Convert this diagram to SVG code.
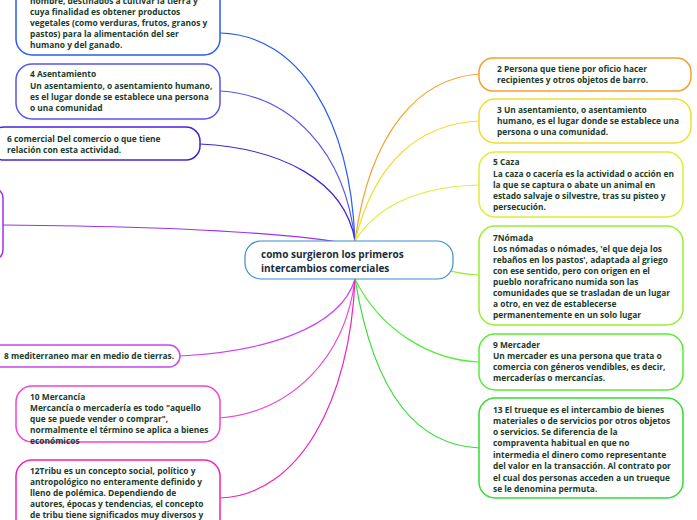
<svg xmlns="http://www.w3.org/2000/svg" width="697" height="520" viewBox="0 0 697 520">
<style>
.n{fill:#fff;stroke-width:1.5}
.t{font-family:"Open Sans","Noto Sans",sans-serif;font-size:8.4px;font-weight:700;fill:#1b3b2b}
.c{fill:none;stroke-width:1.2}
</style>
<rect width="697" height="520" fill="#fff"/>
<g id="connectors">
<path class="c" stroke="#2a5cf0" d="M355,241 C350,120 300,35 220,33"/>
<path class="c" stroke="#5555ee" d="M355,241 C345,150 290,95 220,91"/>
<path class="c" stroke="#4422dd" d="M355,241 C345,180 280,148 200,144"/>
<path class="c" stroke="#9933ee" d="M355,245 C280,230 120,226 3,225"/>
<path class="c" stroke="#cc44ee" d="M355,279 C340,330 260,352 180,356"/>
<path class="c" stroke="#ee44dd" d="M355,279 C345,360 290,412 220,418"/>
<path class="c" stroke="#ee22bb" d="M355,279 C350,400 300,495 220,498"/>
<path class="c" stroke="#f5a030" d="M355,241 C370,130 420,78 479,74"/>
<path class="c" stroke="#f0dd30" d="M355,241 C375,160 420,124 479,121"/>
<path class="c" stroke="#ddee33" d="M355,241 C380,200 430,186 479,185"/>
<path class="c" stroke="#99ee33" d="M355,241 C390,250 440,274 479,275"/>
<path class="c" stroke="#55ee33" d="M355,279 C380,330 430,360 479,362"/>
<path class="c" stroke="#33dd33" d="M355,279 C375,400 420,445 479,448"/>
</g>
<g id="center">
<rect x="245" y="241" width="208" height="38" rx="16" fill="#fff" stroke="#3a8ed0" stroke-width="1.2"/>
<text x="261" y="258" font-family="'Open Sans',sans-serif" font-size="10" font-weight="700" fill="#1b2b3b">como surgieron los primeros</text>
<text x="261" y="272" font-family="'Open Sans',sans-serif" font-size="10" font-weight="700" fill="#1b2b3b">intercambios comerciales</text>
</g>
<g id="n1"><rect class="n" x="16" y="-20" width="204" height="75" rx="16" stroke="#2a5cf0"/>
<text class="t" x="30"><tspan x="30" y="4">hombre, destinados a cultivar la tierra y</tspan><tspan x="30" y="15">cuya finalidad es obtener productos</tspan><tspan x="30" y="26">vegetales (como verduras, frutos, granos y</tspan><tspan x="30" y="37">pastos) para la alimentación del ser</tspan><tspan x="30" y="48">humano y del ganado.</tspan></text></g>
<g id="n4"><rect class="n" x="16" y="64" width="204" height="55" rx="16" stroke="#5555ee"/>
<text class="t"><tspan x="30" y="77">4 Asentamiento</tspan><tspan x="30" y="89">Un asentamiento, o asentamiento humano,</tspan><tspan x="30" y="100">es el lugar donde se establece una persona</tspan><tspan x="30" y="111">o una comunidad</tspan></text></g>
<g id="n6"><rect class="n" x="-10" y="127" width="210" height="33" rx="14" stroke="#4422dd"/>
<text class="t"><tspan x="7" y="142">6 comercial Del comercio o que tiene</tspan><tspan x="7" y="153">relación con esta actividad.</tspan></text></g>
<g id="n-purple"><rect class="n" x="-20" y="188" width="23" height="72" rx="10" stroke="#9933ee"/></g>
<g id="n8"><rect class="n" x="-10" y="345" width="190" height="22" rx="11" stroke="#cc44ee"/>
<text class="t" x="4" y="359">8 mediterraneo mar en medio de tierras.</text></g>
<g id="n10"><rect class="n" x="16" y="386" width="204" height="56" rx="16" stroke="#ee44dd"/>
<text class="t"><tspan x="30" y="400">10 Mercancía</tspan><tspan x="30" y="411">Mercancía o mercadería es todo "aquello</tspan><tspan x="30" y="422">que se puede vender o comprar",</tspan><tspan x="30" y="433">normalmente el término se aplica a bienes</tspan><tspan x="30" y="444">económicos</tspan></text></g>
<g id="n12"><rect class="n" x="16" y="460" width="204" height="80" rx="16" stroke="#ee22bb"/>
<text class="t"><tspan x="30" y="474">12Tribu es un concepto social, político y</tspan><tspan x="30" y="485">antropológico no enteramente definido y</tspan><tspan x="30" y="496">lleno de polémica. Dependiendo de</tspan><tspan x="30" y="507">autores, épocas y tendencias, el concepto</tspan><tspan x="30" y="518">de tribu tiene significados muy diversos y</tspan></text></g>
<g id="n2"><rect class="n" x="479" y="58" width="212" height="33" rx="14" stroke="#f5a030"/>
<text class="t"><tspan x="497" y="72">2 Persona que tiene por oficio hacer</tspan><tspan x="497" y="83">recipientes y otros objetos de barro.</tspan></text></g>
<g id="n3"><rect class="n" x="479" y="99" width="212" height="44" rx="16" stroke="#f0dd30"/>
<text class="t"><tspan x="497" y="113">3 Un asentamiento, o asentamiento</tspan><tspan x="497" y="124">humano, es el lugar donde se establece una</tspan><tspan x="497" y="135">persona o una comunidad.</tspan></text></g>
<g id="n5"><rect class="n" x="479" y="152" width="204" height="65" rx="16" stroke="#ddee33"/>
<text class="t"><tspan x="493" y="165">5 Caza</tspan><tspan x="493" y="177">La caza o cacería es la actividad o acción en</tspan><tspan x="493" y="188">la que se captura o abate un animal en</tspan><tspan x="493" y="199">estado salvaje o silvestre, tras su pisteo y</tspan><tspan x="493" y="210">persecución.</tspan></text></g>
<g id="n7"><rect class="n" x="479" y="226" width="204" height="99" rx="16" stroke="#99ee33"/>
<text class="t"><tspan x="493" y="241">7Nómada</tspan><tspan x="493" y="252">Los nómadas o nómades, 'el que deja los</tspan><tspan x="493" y="263">rebaños en los pastos', adaptada al griego</tspan><tspan x="493" y="274">con ese sentido, pero con origen en el</tspan><tspan x="493" y="285">pueblo norafricano numida son las</tspan><tspan x="493" y="296">comunidades que se trasladan de un lugar</tspan><tspan x="493" y="307">a otro, en vez de establecerse</tspan><tspan x="493" y="318">permanentemente en un solo lugar</tspan></text></g>
<g id="n9"><rect class="n" x="479" y="334" width="204" height="56" rx="16" stroke="#55ee33"/>
<text class="t"><tspan x="493" y="348">9  Mercader</tspan><tspan x="493" y="359">Un mercader es una persona que trata o</tspan><tspan x="493" y="370">comercia con géneros vendibles, es decir,</tspan><tspan x="493" y="381">mercaderías o mercancías.</tspan></text></g>
<g id="n13"><rect class="n" x="479" y="398" width="204" height="100" rx="16" stroke="#33dd33"/>
<text class="t"><tspan x="493" y="413">13 El trueque es el intercambio de bienes</tspan><tspan x="493" y="424">materiales o de servicios por otros objetos</tspan><tspan x="493" y="435">o servicios. Se diferencia de la</tspan><tspan x="493" y="446">compraventa habitual en que no</tspan><tspan x="493" y="458">intermedia el dinero como representante</tspan><tspan x="493" y="469">del valor en la transacción. Al contrato por</tspan><tspan x="493" y="481">el cual dos personas acceden a un trueque</tspan><tspan x="493" y="492">se le denomina permuta.</tspan></text></g>
</svg>
